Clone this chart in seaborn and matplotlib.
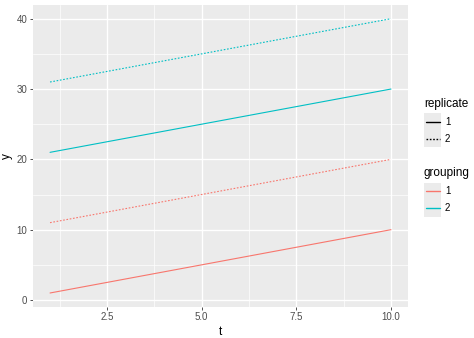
import numpy as np
import pandas as pd
import matplotlib
matplotlib.use("Agg")
import matplotlib.pyplot as plt
from matplotlib.patches import Rectangle
from matplotlib.lines import Line2D
import seaborn as sns

t = [1, 2, 3, 4, 5, 6, 7, 8, 9, 10]
y_g1_r1 = [1, 2, 3, 4, 5, 6, 7, 8, 9, 10]
y_g1_r2 = [11, 12, 13, 14, 15, 16, 17, 18, 19, 20]
y_g2_r1 = [21, 22, 23, 24, 25, 26, 27, 28, 29, 30]
y_g2_r2 = [31, 32, 33, 34, 35, 36, 37, 38, 39, 40]
groupings = ["1", "2"]
replicates = ["1", "2"]
x_ticks = [2.5, 5.0, 7.5, 10.0]
x_tick_labels = ["2.5", "5.0", "7.5", "10.0"]
y_ticks = [0, 10, 20, 30, 40]

rows = []
for g, r, ys in [("1", "1", y_g1_r1), ("1", "2", y_g1_r2),
                 ("2", "1", y_g2_r1), ("2", "2", y_g2_r2)]:
    for ti, yi in zip(t, ys):
        rows.append({"t": ti, "y": yi, "grouping": g, "replicate": r})
df = pd.DataFrame(rows)

colors = {"1": "#F8766D", "2": "#00BFC4"}
dash = {"1": "", "2": (1.5, 1.5)}

sns.set_theme(style="white")
plt.rcParams["font.family"] = ["Liberation Sans", "DejaVu Sans"]

W, H = 474, 338
fig = plt.figure(figsize=(W / 100, H / 100), dpi=100)
L, R, T, B = 33, 408, 5, 306.7
ax = fig.add_axes([L / W, 1 - B / H, (R - L) / W, (B - T) / H])
ax.set_facecolor("#EBEBEB")

sns.lineplot(data=df, x="t", y="y", hue="grouping", style="replicate",
             palette=colors, dashes=dash, hue_order=groupings,
             style_order=replicates, units=None, estimator=None,
             linewidth=0.8, legend=False, ax=ax)

xr = 9 * 0.05
yr = 39 * 0.05
ax.set_xlim(1 - xr, 10 + xr)
ax.set_ylim(1 - yr, 40 + yr)

for v in [1.25, 3.75, 6.25, 8.75]:
    ax.axvline(v, color="white", lw=0.5, zorder=0.5)
for v in [5, 15, 25, 35]:
    ax.axhline(v, color="white", lw=0.5, zorder=0.5)
for v in x_ticks:
    ax.axvline(v, color="white", lw=1.0, zorder=0.6)
for v in y_ticks:
    ax.axhline(v, color="white", lw=1.0, zorder=0.6)

ax.set_xticks(x_ticks)
ax.set_xticklabels(x_tick_labels)
ax.set_yticks(y_ticks)
ax.tick_params(axis="both", length=2.5, width=0.6, color="#333333",
               labelsize=7, labelcolor="#4D4D4D", pad=1.5, direction="out",
               bottom=True, left=True)
for s in ax.spines.values():
    s.set_visible(False)
ax.set_xlabel("t", fontsize=8.5, color="black", labelpad=3)
ax.set_ylabel("y", fontsize=8.5, color="black", labelpad=3)

def fx(px):
    return px / W

def fy(py):
    return 1 - py / H

kx0, kw = 424, 17
lab_x = 445

def legend_block(title, title_y, entries):
    fig.text(fx(kx0), fy(title_y), title, fontsize=8.5, color="black",
             va="center", ha="left")
    for cy, lab, col, ls in entries:
        fig.patches.append(Rectangle((fx(kx0), fy(cy + kw / 2)), kw / W, kw / H,
                                     transform=fig.transFigure,
                                     facecolor="#EBEBEB", edgecolor="none"))
        fig.lines.append(Line2D([fx(kx0 + 1.5), fx(kx0 + kw - 1.5)],
                                [fy(cy), fy(cy)], transform=fig.transFigure,
                                color=col, lw=1.0, linestyle=ls, zorder=3))
        fig.text(fx(lab_x), fy(cy), lab, fontsize=7, color="black",
                 va="center", ha="left")

legend_block("replicate", 104, [(122, replicates[0], "black", "-"),
                                (139, replicates[1], "black", (0, (1.2, 1.2)))])
legend_block("grouping", 173, [(191, groupings[0], colors["1"], "-"),
                               (208, groupings[1], colors["2"], "-")])

fig.savefig("out.png", dpi=100, facecolor="white")
